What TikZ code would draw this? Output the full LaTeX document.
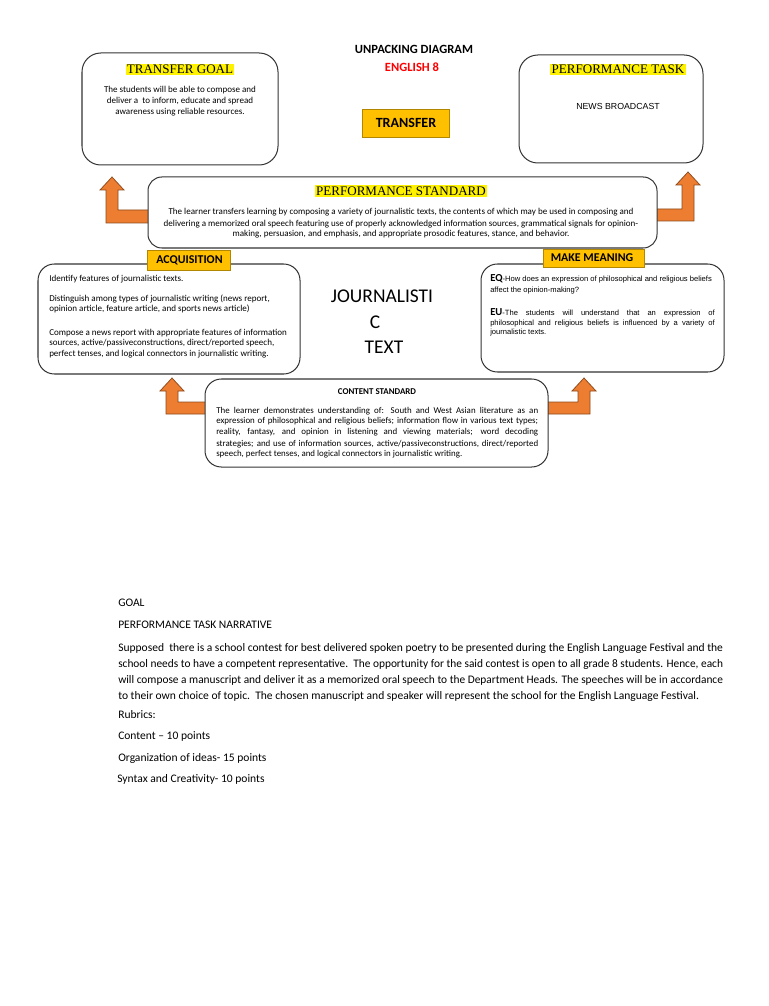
\documentclass[tikz,border=0pt]{standalone}
\usepackage{fontspec}
\usepackage{graphicx}
\setmainfont{Carlito}
\newfontfamily\serifttl{Liberation Serif}
\newfontfamily\arialtxt{Liberation Sans}
\definecolor{arrorange}{HTML}{ED7D31}
\definecolor{golden}{HTML}{FFC000}
\newcommand\fs[1]{\fontsize{#1}{#1}\selectfont}
\newsavebox\jbox
\newcommand\jline[2]{\sbox\jbox{#2}\ifdim\wd\jbox>#1\relax\resizebox{#1}{\height}{\usebox\jbox}\else\makebox[#1][s]{#2}\fi}
\begin{document}
\begin{tikzpicture}[x=0.797pt,y=-0.797pt,
  panel/.style={draw=black!80, line width=0.8pt, rounded corners=11pt, fill=white},
  hl/.style={fill=yellow, inner sep=1pt, font=\serifttl\fs{10.4}},
  tagbox/.style={draw=golden!70!black, fill=golden, line width=0.6pt},
  tagtext/.style={inner sep=0pt, font=\bfseries\fs{9.5}},
  arr/.style={fill=arrorange, draw=arrorange!60!black, line width=0.6pt, line join=miter},
  tx/.style={inner sep=0pt, font=\fs{7.2}},
  mm/.style={inner sep=0pt, font=\arialtxt\fs{6.05}},
  body/.style={inner sep=0pt, font=\fs{9.2}},
]
\useasboundingbox (0,0) rectangle (768,1006);
\fill[white] (0,0) rectangle (768,1006);

% arrows
\draw[arr] (152,210) -- (118,210) -- (118,190) -- (124,190) -- (112,177) -- (100,190) -- (106,190) -- (106,223) -- (152,223) -- cycle;
\draw[arr] (652,209) -- (682,209) -- (682,185) -- (676,185) -- (688,172) -- (700,185) -- (694,185) -- (694,221) -- (652,221) -- cycle;
\draw[arr] (210,402) -- (178,402) -- (178,391) -- (184,391) -- (172,378) -- (160,391) -- (166,391) -- (166,414) -- (210,414) -- cycle;
\draw[arr] (545,402) -- (578,402) -- (578,391) -- (572,391) -- (584,378) -- (596,391) -- (590,391) -- (590,414) -- (545,414) -- cycle;

% panels
\draw[panel, rounded corners=15pt] (82,53) rectangle (278,165);
\draw[panel, rounded corners=15pt] (519,55) rectangle (703,163);
\draw[panel] (148,177) rectangle (657,248);
\draw[panel, rounded corners=13pt] (38,264) rectangle (300,374);
\draw[panel, rounded corners=13pt] (481,264) rectangle (724,372);
\draw[panel, rounded corners=13pt] (205,379) rectangle (548,467);

% tags
\draw[tagbox] (147,250) rectangle (230,270);
\node[tagtext] (acq) at (189.5,260) {ACQUISITION};
\draw[tagbox] (543,249) rectangle (644,267);
\node[tagtext] (mmt) at (592,258) {MAKE MEANING};
\draw[tagbox] (362,109) rectangle (449,137);
\node[tagtext, font=\bfseries\fs{11.2}] (transfer) at (406,123) {TRANSFER};

% titles
\node[inner sep=0pt, font=\bfseries\fs{10}, anchor=base] (title) at (414,54) {UNPACKING DIAGRAM};
\node[inner sep=0pt, font=\bfseries\fs{10}, text=red, anchor=base] (eng) at (412,72) {ENGLISH 8};

% transfer goal
\node[hl] (tgt) at (180,69.5) {TRANSFER GOAL};
\node[tx, anchor=base] (tg1) at (180,92.5) {The students will be able to compose and};
\node[tx, anchor=base] (tg2) at (180,103.5) {deliver a\ \ to inform, educate and spread};
\node[tx, anchor=base] (tg3) at (180,114.5) {awareness using reliable resources.};

% performance task
\node[hl] (ptt) at (618,69.5) {PERFORMANCE TASK};
\node[inner sep=0pt, font=\arialtxt\fs{7}, anchor=base] (news) at (618,110) {NEWS BROADCAST};

% performance standard
\node[hl] (pst) at (401,191) {PERFORMANCE STANDARD};
\node[tx, anchor=base] (ps1) at (401,215) {The learner transfers learning by composing a variety of journalistic texts, the contents of which may be used in composing and};
\node[tx, anchor=base] (ps2) at (401,226.5) {delivering a memorized oral speech featuring use of properly acknowledged information sources, grammatical signals for opinion-};
\node[tx, anchor=base] (ps3) at (401,236.5) {making, persuasion, and emphasis, and appropriate prosodic features, stance, and behavior.};

% acquisition
\node[tx, anchor=base west] (a1) at (49,282) {Identify features of journalistic texts.};
\node[tx, anchor=base west] (a2) at (49,301.5) {Distinguish among types of journalistic writing (news report,};
\node[tx, anchor=base west] (a3) at (49,311) {opinion article, feature article, and sports news article)};
\node[tx, anchor=base west] (a4) at (49,335) {Compose a news report with appropriate features of information};
\node[tx, anchor=base west] (a5) at (49,345.5) {sources, active/passiveconstructions, direct/reported speech,};
\node[tx, anchor=base west] (a6) at (49,356) {perfect tenses, and logical connectors in journalistic writing.};

% make meaning
\node[mm, anchor=base west] (m1) at (490,282) {{\fontspec{Carlito}\bfseries\fs{8.5}EQ}-How does an expression of philosophical and religious beliefs};
\node[mm, anchor=base west] (m2) at (490,292) {affect the opinion-making?};
\node[mm, anchor=base west] (m3) at (490,315.5) {\jline{179pt}{{\fontspec{Carlito}\bfseries\fs{8.5}EU}-The students will understand that an expression of}};
\node[mm, anchor=base west] (m4) at (490,325) {\jline{179pt}{philosophical and religious beliefs is influenced by a variety of}};
\node[mm, anchor=base west] (m5) at (490,334) {journalistic texts.};

% journalistic text
\node[inner sep=0pt, font=\fs{15.5}, anchor=base] (j1) at (382,302.5) {JOURNALISTI};
\node[inner sep=0pt, font=\fs{15.5}, anchor=base] (j2) at (375,328.5) {C};
\node[inner sep=0pt, font=\fs{15.5}, anchor=base] (j3) at (384,353.5) {TEXT};

% content standard
\node[tx, font=\bfseries\fs{7.1}, anchor=base] (cst) at (377,394) {CONTENT STANDARD};
\node[tx, font=\fs{7.1}, anchor=base west] (c1) at (216,413) {\jline{256.6pt}{The learner demonstrates understanding of: South and West Asian literature as an}};
\node[tx, font=\fs{7.1}, anchor=base west] (c2) at (216,423) {\jline{256.6pt}{expression of philosophical and religious beliefs; information flow in various text types;}};
\node[tx, font=\fs{7.1}, anchor=base west] (c3) at (216,434.5) {\jline{256.6pt}{reality, fantasy, and opinion in listening and viewing materials; word decoding}};
\node[tx, font=\fs{7.1}, anchor=base west] (c4) at (216,446) {\jline{256.6pt}{strategies; and use of information sources, active/passiveconstructions, direct/reported}};
\node[tx, font=\fs{7.1}, anchor=base west] (c5) at (216,456) {speech, perfect tenses, and logical connectors in journalistic writing.};

% bottom text
\node[body, anchor=base west] (goal) at (118,606.5) {GOAL};
\node[body, anchor=base west] (ptn) at (118,628) {PERFORMANCE TASK NARRATIVE};
\node[body, anchor=base west] (p1) at (118,651) {\jline{482pt}{Supposed\ \ there is a school contest for best delivered spoken poetry to be presented during the English Language Festival and the}};
\node[body, anchor=base west] (p2) at (118,667) {\jline{482pt}{school needs to have a competent representative.\ \ The opportunity for the said contest is open to all grade 8 students. Hence, each}};
\node[body, anchor=base west] (p3) at (118,683) {\jline{482pt}{will compose a manuscript and deliver it as a memorized oral speech to the Department Heads. The speeches will be in accordance}};
\node[body, anchor=base west] (p4) at (118,699) {to their own choice of topic.\ \ The chosen manuscript and speaker will represent the school for the English Language Festival.};
\node[body, anchor=base west] (rub) at (118,718) {Rubrics:};
\node[body, anchor=base west] (r1) at (118,739) {Content -- 10 points};
\node[body, anchor=base west] (r2) at (118,761) {Organization of ideas- 15 points};
\node[body, anchor=base west] (r3) at (117,782) {Syntax and Creativity- 10 points};
\end{tikzpicture}
\end{document}
